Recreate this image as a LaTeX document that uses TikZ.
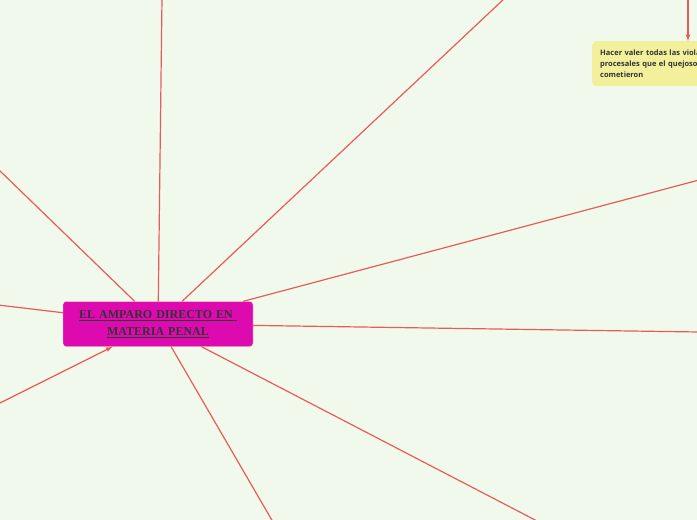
\documentclass[tikz,border=0pt]{standalone}
\usepackage{fontspec}
\setmainfont{Liberation Serif}
\newfontfamily\notefont{Open Sans}
\usetikzlibrary{shapes,arrows}
\definecolor{bgcol}{HTML}{F1F9EC}
\definecolor{linkcol}{HTML}{E95B5B}
\definecolor{rootcol}{HTML}{DC0AAF}
\definecolor{rootedge}{HTML}{F3E2A2}
\definecolor{notecol}{HTML}{F3F09B}
\definecolor{textcol}{HTML}{333333}
\tikzset{
	topic/.style    = {draw = rootedge, fill = rootcol, rectangle, rounded corners = 3pt,
		minimum width = 190pt, minimum height = 45pt, text width = 180pt, align = center,
		text = textcol, font = \fontsize{12}{17}\selectfont\bfseries, inner sep = 0pt},
	note/.style     = {fill = notecol, rectangle, rounded corners = 4pt, anchor = north west,
		minimum width = 160pt, minimum height = 45pt, text width = 150pt, align = left,
		text = textcol, font = \notefont\fontsize{7.5}{11.5}\selectfont\bfseries,
		inner xsep = 8pt, inner ysep = 0pt},
	link/.style     = {draw = linkcol, line width = 1.2pt}
}

\begin{document}
\begin{tikzpicture}[x=1pt, y=-1pt, >=latex]
	
	\fill[bgcol] (0,0) rectangle (697,520);
	\useasboundingbox (0,0) rectangle (697,520);
	\clip (0,0) rectangle (697,520);
	
	\draw
	node at (158,324) [topic] (root) {\raisebox{-3pt}{\underline{EL AMPARO DIRECTO EN\ }}\\\raisebox{-3pt}{\underline{MATERIA PENAL}}}
	node at (592,41) [note] (viol) {\raisebox{-1pt}{Hacer valer todas las violaciones}\\procesales que el quejoso\\cometieron};
	
	\coordinate (t1) at (162,-2);
	\coordinate (t2) at (505,-2);
	\coordinate (t3) at (-2,169);
	\coordinate (t4) at (-2,305);
	\coordinate (t5) at (-2,404);
	\coordinate (t6) at (273,522);
	\coordinate (t7) at (539,522);
	\coordinate (t8) at (699,332);
	\coordinate (t9) at (699,180);
	\coordinate (v0) at (688,-2);
	
	\draw[link](root)--(t1);
	\draw[link](root)--(t2);
	\draw[link](root)--(t3);
	\draw[link](root)--(t4);
	\draw[link,<-](root)--(t5);
	\draw[link](root)--(t6);
	\draw[link](root)--(t7);
	\draw[link](root)--(t8);
	\draw[link](root)--(t9);
	\draw[link,->](v0)--(viol.north west -| v0);
	
\end{tikzpicture}
\end{document}
